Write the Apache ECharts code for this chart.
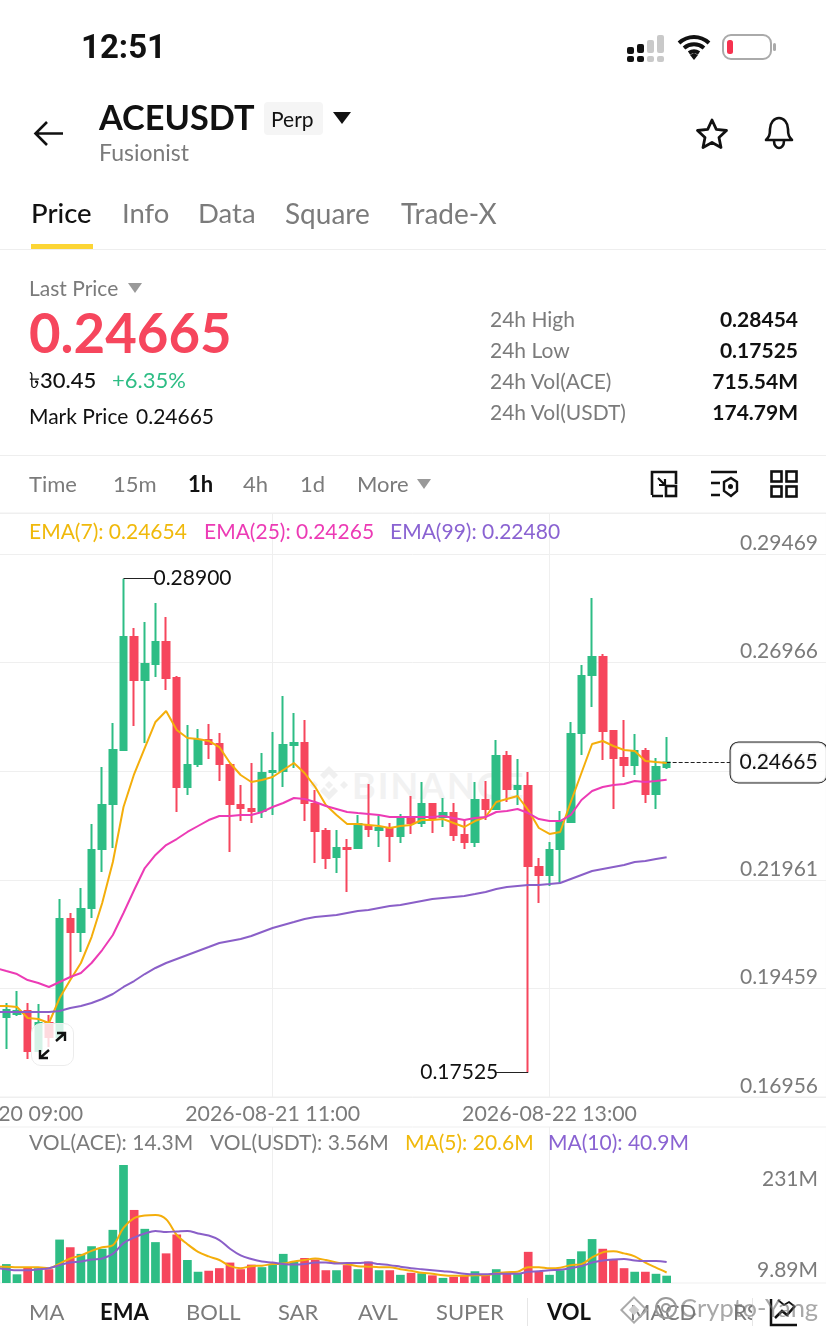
<!DOCTYPE html>
<html><head><meta charset="utf-8">
<script src="https://cdn.jsdelivr.net/npm/echarts@6/dist/echarts.min.js"></script>
<style>
html,body{margin:0;padding:0;background:#fff;width:826px;height:1332px;overflow:hidden;font-family:Lato,sans-serif}
#wrap{position:relative;width:826px;height:1332px;overflow:hidden}
#chart{position:absolute;left:0;top:0;width:826px;height:1332px;z-index:2}
.t{position:absolute;white-space:nowrap;line-height:1;transform:translateY(calc(-50% - .5px));z-index:3}
.r{transform:translate(-100%,calc(-50% - .5px))}
.g{color:#7b7b7b}.k{color:#111}.b{font-weight:700}
.h{position:absolute;left:0;width:826px;height:1px;background:#eeeeee;z-index:1}
svg{position:absolute;z-index:3;overflow:visible}
</style></head><body><div id="wrap">
<div class="t k" style="left:81px;top:47px;font:700 33px Roboto;">12:51</div>
<svg style="left:626px;top:34px" width="40" height="28"><g fill="#111"><rect x="1" y="13" width="7" height="7" rx="2"/><rect x="1" y="22" width="7" height="6" rx="2"/><rect x="11" y="10" width="7" height="9" rx="2"/><rect x="11" y="22" width="7" height="6" rx="2"/></g><g fill="#c9c9c9"><rect x="21" y="6" width="7" height="13" rx="2"/><rect x="21" y="22" width="7" height="6" rx="2"/><rect x="31" y="1" width="7" height="18" rx="2"/><rect x="31" y="22" width="7" height="6" rx="2"/></g></svg>
<svg style="left:677px;top:35px" width="34" height="26" viewBox="0 0 34 26"><path d="M2 8C11 0 23 0 32 8M7 13c6-5 14-5 20 0M12 18c3-2 7-2 10 0" fill="none" stroke="#111" stroke-width="4"/><path d="M13 20l4-2 4 2-4 5z" fill="#111"/></svg>
<svg style="left:722px;top:33px" width="56" height="28"><rect x="1" y="2" width="48" height="24" rx="8" fill="#fff" stroke="#aaa" stroke-width="2"/><rect x="5" y="7" width="6" height="14" rx="2.5" fill="#f6324f"/><rect x="51" y="10" width="3" height="8" rx="1.5" fill="#aaa"/></svg>

<svg style="left:33px;top:120px" width="31" height="27"><path d="M30 13.5H3M14 2L2.5 13.5 14 25" fill="none" stroke="#111" stroke-width="2.6"/></svg>
<div class="t k b" style="left:99px;top:118px;font-size:34.3px">ACEUSDT</div>
<div style="position:absolute;left:264px;top:102px;width:59px;height:33px;background:#f5f5f5;border-radius:4px"></div>
<div class="t k" style="left:271px;top:119px;font-size:21px">Perp</div>
<svg style="left:333px;top:112px" width="19" height="12"><path d="M0 0H18L9 12z" fill="#111"/></svg>
<div class="t g" style="left:99px;top:153px;font-size:23px">Fusionist</div>
<svg style="left:695px;top:117px" width="34" height="34" viewBox="0 0 34 34"><path d="M17 3l4.300 9.300 10.200 1.200-7.500 7 2 10-9-5-9 5 2-10-7.500-7 10.200-1.200z" fill="none" stroke="#111" stroke-width="2.800" stroke-linejoin="round"/></svg>
<svg style="left:763px;top:116px" width="32" height="34" viewBox="0 0 32 34"><path d="M3 24h26c-3-3-4-5-4-11 0-6-4-11-9-11s-9 5-9 11c0 6-1 8-4 11zM11 25c0 5 3 7 5 7s5-2 5-7" fill="none" stroke="#111" stroke-width="2.600" stroke-linejoin="round"/></svg>

<div class="t k" style="left:31px;top:213px;font-size:27.500px;font-weight:500">Price</div>
<div class="t g" style="left:122px;top:213px;font-size:27.500px">Info</div>
<div class="t g" style="left:198px;top:213px;font-size:27.500px">Data</div>
<div class="t g" style="left:285px;top:213px;font-size:28px">Square</div>
<div class="t g" style="left:401px;top:213px;font-size:28px">Trade-X</div>
<div style="position:absolute;left:31px;top:244px;width:62px;height:5px;background:#fcd535;z-index:3"></div>
<div class="h" style="top:249px"></div>

<div class="t g" style="left:29px;top:288px;font-size:21px">Last Price</div>
<svg style="left:128px;top:283px" width="15" height="10"><path d="M0 0H14L7 10z" fill="#999"/></svg>
<div class="t b" style="left:29px;top:333px;font-size:54.500px;color:#f6465d">0.24665</div>
<div class="t k" style="left:29px;top:380px;font-size:22px;font-weight:500">৳30.45</div>
<div class="t" style="left:112px;top:380px;font-size:22px;color:#2ebd85">+6.35%</div>
<div class="t k" style="left:29px;top:416px;font-size:21px">Mark Price</div>
<div class="t k" style="left:136px;top:416px;font-size:21px">0.24665</div>
<div class="t g" style="left:490px;top:319px;font-size:21px">24h High</div>
<div class="t g" style="left:490px;top:350px;font-size:21px">24h Low</div>
<div class="t g" style="left:490px;top:381px;font-size:21px">24h Vol(ACE)</div>
<div class="t g" style="left:490px;top:412px;font-size:21px">24h Vol(USDT)</div>
<div class="t r k b" style="left:798px;top:319px;font-size:21px">0.28454</div>
<div class="t r k b" style="left:798px;top:350px;font-size:21px">0.17525</div>
<div class="t r k b" style="left:798px;top:381px;font-size:21px">715.54M</div>
<div class="t r k b" style="left:798px;top:412px;font-size:21px">174.79M</div>
<div class="h" style="top:455px"></div>

<div class="t g" style="left:29px;top:484px;font-size:22px">Time</div>
<div class="t g" style="left:113px;top:484px;font-size:22px">15m</div>
<div class="t k b" style="left:188px;top:484px;font-size:22px">1h</div>
<div class="t g" style="left:243px;top:484px;font-size:22px">4h</div>
<div class="t g" style="left:300px;top:484px;font-size:22px">1d</div>
<div class="t g" style="left:357px;top:484px;font-size:22px">More</div>
<svg style="left:417px;top:479px" width="15" height="10"><path d="M0 0H14L7 10z" fill="#999"/></svg>
<svg style="left:650px;top:470px" width="28" height="28"><path d="M2 25V2h24v12M2 26h11" fill="none" stroke="#111" stroke-width="2.600"/><rect x="16" y="16" width="10" height="10" fill="none" stroke="#111" stroke-width="2.600"/><path d="M8 8l7 7M15 9v6H9" fill="none" stroke="#111" stroke-width="2.200"/></svg>
<svg style="left:710px;top:470px" width="28" height="28"><path d="M1 2h26M1 13h9M1 25h9" fill="none" stroke="#111" stroke-width="2.600"/><path d="M21 8l6 4v9l-6 5-7-5v-9z" fill="none" stroke="#111" stroke-width="2.400"/><circle cx="20.500" cy="16.500" r="2.500" fill="#111"/></svg>
<svg style="left:770px;top:470px" width="28" height="28" fill="none" stroke="#111" stroke-width="2.600"><rect x="1.500" y="1.500" width="10" height="10"/><rect x="16.500" y="1.500" width="10" height="10"/><rect x="1.500" y="16.500" width="10" height="10"/><rect x="16.500" y="16.500" width="10" height="10"/></svg>
<div class="h" style="top:513px"></div>
<div class="t" style="left:29px;top:531px;font-size:21px;color:#f0b90b">EMA(7): 0.24654</div>
<div class="t" style="left:204px;top:531px;font-size:21px;color:#ec3bb5">EMA(25): 0.24265</div>
<div class="t" style="left:390px;top:531px;font-size:21px;color:#8a63d2">EMA(99): 0.22480</div>

<!-- watermark sits behind the transparent chart -->
<svg style="left:308px;top:764px;z-index:1" width="42" height="42" viewBox="0 0 42 42"><path d="M21 2l9 9-4 4-5-5-5 5-4-4zM6 17l4 4-4 4-4-4zM36 17l4 4-4 4-4-4zM21 17l4 4-4 4-4-4zM12 27l4-4 5 5 5-5 4 4-9 9z" fill="#f0f0f0"/></svg>
<div class="t b" style="left:352px;top:785px;font-size:36px;color:#f2f2f2;z-index:1;letter-spacing:2px">BINANCE</div>

<div class="t g" style="left:29px;top:1142px;font-size:21px">VOL(ACE): 14.3M</div>
<div class="t g" style="left:210px;top:1142px;font-size:21px">VOL(USDT): 3.56M</div>
<div class="t" style="left:405px;top:1142px;font-size:21px;color:#f0b90b">MA(5): 20.6M</div>
<div class="t" style="left:548px;top:1142px;font-size:21px;color:#8a63d2">MA(10): 40.9M</div>

<div style="position:absolute;left:31px;top:1023px;width:41px;height:41px;border-radius:10px;border:1.500px solid #ececec;background:rgba(255,255,255,.8);z-index:3"></div>
<svg style="left:38px;top:1031px" width="30" height="30"><path d="M18 10L27 2M19 2h8v8M11 19L2 27M2 19v8h8" fill="none" stroke="#111" stroke-width="2.400"/></svg>

<div class="t g" style="left:29px;top:1312px;font-size:22px">MA</div>
<div class="t k b" style="left:100px;top:1312px;font-size:22px">EMA</div>
<div class="t g" style="left:186px;top:1312px;font-size:22px">BOLL</div>
<div class="t g" style="left:278px;top:1312px;font-size:22px">SAR</div>
<div class="t g" style="left:358px;top:1312px;font-size:22px">AVL</div>
<div class="t g" style="left:436px;top:1312px;font-size:22px">SUPER</div>
<div style="position:absolute;left:527px;top:1298px;width:1px;height:28px;background:#e6e6e6"></div>
<div class="t k b" style="left:547px;top:1312px;font-size:22px">VOL</div>
<div class="t g" style="left:630px;top:1312px;font-size:22px">MACD</div>
<div class="t g" style="left:733px;top:1312px;font-size:22px">RSI</div>
<div style="position:absolute;left:752px;top:1284px;width:74px;height:48px;background:#fff;z-index:3"></div>
<div style="position:absolute;left:752px;top:1298px;width:1px;height:28px;background:#e6e6e6;z-index:3"></div>
<svg style="left:770px;top:1298px;z-index:4" width="28" height="28"><path d="M1 1v26h26" fill="none" stroke="#111" stroke-width="2.500"/><path d="M5 20l7-7 5 4 8-9" fill="none" stroke="#111" stroke-width="2.500"/><path d="M8 2l6 5 5-3 5 4" fill="none" stroke="#111" stroke-width="1.800"/></svg>
<svg style="left:620px;top:1296px;z-index:5" width="28" height="28" viewBox="0 0 42 42"><path d="M21 2l19 19-19 19L2 21z" fill="none" stroke="#aaa" stroke-width="3"/><path d="M21 13l8 8-8 8-8-8z" fill="#ccc"/></svg>
<svg style="left:654px;top:1296px;z-index:5" width="24" height="24"><circle cx="12" cy="12" r="10" fill="none" stroke="#999" stroke-width="2"/><circle cx="12" cy="12" r="4" fill="none" stroke="#999" stroke-width="2"/></svg>
<div class="t" style="left:680px;top:1308px;font-size:25.500px;color:rgba(110,110,110,.6);z-index:5">Crypto-Yang</div>
<div id="chart"></div>
</div>
<script>
// [open, close, low, high]
const candles = [
[.18915,.19053,.18730,.19191],[.18800,.18961,.18062,.19122],[.18869,.18938,.18823,.19399],[.18938,.18016,.17832,.19122],
[.18016,.18661,.18016,.19099],[.18661,.18339,.18108,.18846],[.18339,.21058,.18339,.21518],[.21058,.20758,.19721,.21196],
[.20758,.21288,.20297,.21773],[.21311,.22648,.21081,.23247],[.22671,.23685,.22141,.24561],[.23708,.24952,.22694,.25575],
[.24952,.27556,.24952,.28900],[.27556,.26565,.25506,.27764],[.26565,.26934,.25114,.27902],[.26934,.27441,.26635,.28340],
[.27441,.26612,.26335,.28017],[.26612,.24100,.23524,.26658],[.24100,.24607,.23915,.25529],[.24630,.25183,.24561,.25436],
[.25183,.25091,.24745,.25552],[.25091,.24630,.24238,.25344],[.24607,.23708,.22602,.24607],[.23685,.23616,.23316,.24146],
[.23593,.23547,.23270,.24653],[.23547,.24422,.23385,.24883],[.24445,.24468,.23455,.25367],[.24468,.25068,.24100,.26196],
[.25068,.25114,.24537,.25805],[.25114,.23731,.23316,.25644],[.23708,.23086,.22348,.24030],[.23086,.22463,.22210,.23155],
[.22486,.22694,.22118,.23109],[.22694,.22671,.21680,.22901],[.22694,.23247,.22694,.23455],[.23201,.23132,.22947,.24169],
[.23109,.23155,.22717,.23431],[.23132,.22970,.22371,.23270],[.22970,.23385,.22809,.23478],[.23385,.23270,.23017,.23892],
[.23270,.23708,.23178,.24215],[.23708,.23385,.23040,.23708],[.23408,.23500,.23178,.23846],[.23500,.22993,.22855,.23731],
[.22993,.22832,.22671,.23339],[.22832,.23800,.22717,.24215],[.23800,.23593,.23339,.24238],[.23593,.24814,.23570,.25183],
[.24814,.24053,.23754,.24929],[.24053,.24123,.23685,.24745],[.24123,.22279,.17525,.24445],[.22256,.22072,.21426,.22463],
[.22072,.22648,.21818,.22832],[.22671,.23293,.21888,.23547],[.23293,.25321,.23270,.25598],[.25344,.26658,.24837,.26911],
[.26681,.27096,.25943,.28455],[.27096,.25390,.24722,.27165],[.25390,.24768,.23593,.25413],[.24768,.24607,.24330,.25644],
[.24607,.24929,.24376,.25321],[.24929,.23938,.23731,.24999],[.23938,.24561,.23593,.24768],[.24561,.24665,.24514,.25252]];
const ema7 = [.19053,.19053,.19030,.18776,.18753,.18661,.19237,.19652,.20044,.20643,.21426,.22371,.23639,.24399,.24999,.25598,.25851,.25413,.25229,.25206,.25160,.25021,.24653,.24376,.24215,.24261,.24330,.24491,.24653,.24422,.24100,.23685,.23455,.23247,.23247,.23224,.23201,.23155,.23201,.23224,.23339,.23339,.23362,.23270,.23178,.23316,.23408,.23754,.23823,.23892,.23570,.23155,.23017,.23063,.23754,.24422,.25091,.25160,.25045,.24952,.24929,.24699,.24676,.24654];
const ema25 = [.19929,.19859,.19790,.19652,.19583,.19491,.19606,.19721,.19813,.20044,.20343,.20689,.21196,.21726,.22233,.22533,.22763,.22901,.23063,.23201,.23339,.23431,.23431,.23455,.23455,.23524,.23639,.23731,.23846,.23823,.23754,.23662,.23593,.23524,.23500,.23478,.23455,.23408,.23408,.23408,.23408,.23408,.23431,.23385,.23339,.23385,.23408,.23524,.23547,.23593,.23500,.23362,.23316,.23316,.23455,.23800,.24007,.24100,.24146,.24169,.24238,.24215,.24238,.24265];
const ema99 = [.18915,.18915,.18915,.18915,.18915,.18915,.18938,.19007,.19053,.19122,.19214,.19329,.19491,.19629,.19790,.19929,.20044,.20136,.20228,.20320,.20412,.20505,.20551,.20597,.20666,.20758,.20850,.20919,.20988,.21058,.21104,.21127,.21150,.21196,.21242,.21265,.21311,.21357,.21380,.21426,.21472,.21518,.21541,.21564,.21587,.21633,.21680,.21749,.21795,.21818,.21841,.21841,.21864,.21888,.21980,.22072,.22164,.22210,.22256,.22302,.22371,.22394,.22440,.22480];
const volumes = [30,37,17,30.7,29,27,85,70,57,72,67,104,231,143,106,80,58,95,45,22,24,29,40,27,36,31,37,57,42,49,46,25,25,35,27,42,25,25,16,20,19,15,10,12,14,23,16,27,19,18,61,22,16,25,47,62,86,67,45,29,22,22,18,14.3];
const volMa5 = [32,32,31,31,31,29,38,48,54,63,70,74,108,127,132,133,125,94,76,61,52,45,33,29,33,34,37,38,42,45,48,45,40,37,33,32,31,31,27,24,20,18,15,14,14,15,15,19,21,22,31,31,29,30,35,37,50,60,62,58,52,40,30,20.6];
const volMa10 = [29,27,25,25,27,29,35,40,42,46,48,57,78,89,97,102,100,101,102,97,93,84,67,54,47,42,40,37,36,37,40,40,38,39,39,40,37,35,32,29,27,25,23,21,18,17,17,18,18,18,22,23,25,26,29,33,40,44,46,47,44,43,43,40.9];
const priceTicks = [0.16956,0.19459,0.21961,0.24464,0.26966,0.29469];
const volTicks = [9.89,231];
const timeLabels = {0:'2026-08-20 09:00',26:'2026-08-21 11:00',52:'2026-08-22 13:00'};
const categories = Array.from({length:79},(_,i)=>timeLabels[i]||String(i));
const lastPrice = 0.24665, highPrice = 0.28900, lowPrice = 0.17525;

const UP='#2ebd85',DOWN='#f6465d',GRID='#efefef',AXIS='#7b7b7b';
const FONT='Lato';
const isTick=i=>timeLabels[i]!==undefined;
const chart=echarts.init(document.getElementById('chart'),null,{renderer:'canvas',width:826,height:1332});
const lineS=(name,data,color,xi,yi,smooth)=>({name,type:'line',data,xAxisIndex:xi,yAxisIndex:yi,symbol:'none',smooth:smooth?0.35:false,
  lineStyle:{color,width:2},itemStyle:{color},z:5,silent:true,animation:false});
chart.setOption({
 animation:false,
 grid:[
  {left:-4.3,right:-0.4,top:513,height:584,show:true,borderColor:GRID,borderWidth:1,outerBoundsMode:'none',containLabel:false},
  {left:-4.3,right:-0.4,top:1127,height:156,show:true,borderColor:GRID,borderWidth:1,outerBoundsMode:'none',containLabel:false}
 ],
 xAxis:[
  {type:'category',data:categories,gridIndex:0,boundaryGap:false,axisLine:{show:false},axisTick:{show:false},
   splitLine:{show:true,interval:isTick,lineStyle:{color:GRID,width:1}},
   axisLabel:{interval:isTick,formatter:v=>v,color:AXIS,fontFamily:FONT,fontSize:21.300,margin:7,hideOverlap:false,showMinLabel:true}},
  {type:'category',data:categories,gridIndex:1,boundaryGap:false,axisLine:{show:false},axisTick:{show:false},axisLabel:{show:false},
   splitLine:{show:true,interval:isTick,lineStyle:{color:GRID,width:1}}}
 ],
 yAxis:[
  {type:'value',gridIndex:0,position:'right',min:0.16956,max:0.30414,scale:true,axisLine:{show:false},
   axisTick:{show:false,customValues:priceTicks},splitLine:{show:true,lineStyle:{color:GRID,width:1}},
   axisLabel:{inside:true,margin:8.4,customValues:priceTicks,formatter:v=>'{a|'+v.toFixed(5)+'}',hideOverlap:false,
    rich:{a:{color:AXIS,fontFamily:FONT,fontSize:21,padding:[0,0,22,0]}}}},
  {type:'value',gridIndex:1,position:'right',min:0,max:305.4,axisLine:{show:false},axisTick:{show:false},splitLine:{show:false},
   axisLabel:{inside:true,margin:8.4,customValues:volTicks,color:AXIS,fontFamily:FONT,fontSize:21,hideOverlap:false,
    formatter:v=>v>100?'{hi|'+v+'M}':'{lo|'+v+'M}',
    rich:{hi:{color:AXIS,fontFamily:FONT,fontSize:21,padding:[28,0,0,0]},lo:{color:AXIS,fontFamily:FONT,fontSize:21,padding:[0,0,16,0]}}}}
 ],
 series:[
  {name:'Price',type:'candlestick',data:candles,xAxisIndex:0,yAxisIndex:0,barWidth:7,z:3,silent:true,
   itemStyle:{color:UP,color0:DOWN,borderColor:UP,borderColor0:DOWN,borderWidth:2},
   markLine:{silent:true,symbol:'none',animation:false,precision:5,data:[
    [{coord:[12,highPrice],lineStyle:{color:'#222',width:1,type:'solid'},label:{show:true,position:'end',formatter:highPrice.toFixed(5),color:'#111',fontFamily:FONT,fontSize:21,distance:-2}},{coord:[15,highPrice]}],
    [{coord:[50,lowPrice],lineStyle:{color:'#222',width:1,type:'solid'},label:{show:true,position:'end',formatter:lowPrice.toFixed(5),color:'#111',fontFamily:FONT,fontSize:21,distance:-2}},{coord:[47,lowPrice]}],
    [{coord:[63,lastPrice],lineStyle:{color:'#222',width:1,type:'dashed'},label:{show:true,position:'end',formatter:lastPrice.toFixed(5),color:'#111',fontFamily:FONT,fontSize:21,distance:0,backgroundColor:'rgba(255,255,255,.85)',borderColor:'#222',borderWidth:1,borderRadius:8,padding:[9,9,10,9]}},{coord:[69,lastPrice]}]
   ]}},
  lineS('EMA(7)',ema7,'#f4ae0b',0,0,false),
  lineS('EMA(25)',ema25,'#ec3bb5',0,0,false),
  lineS('EMA(99)',ema99,'#8a5fc8',0,0,false),
  {name:'Volume',type:'bar',xAxisIndex:1,yAxisIndex:1,barWidth:8.7,silent:true,z:3,
   data:volumes.map((v,i)=>({value:v,itemStyle:{color:candles[i][1]>=candles[i][0]?UP:DOWN}}))},
  lineS('MA(5)',volMa5,'#f4ae0b',1,1,true),
  lineS('MA(10)',volMa10,'#8a5fc8',1,1,true)
 ]
});
</script>
</body></html>
